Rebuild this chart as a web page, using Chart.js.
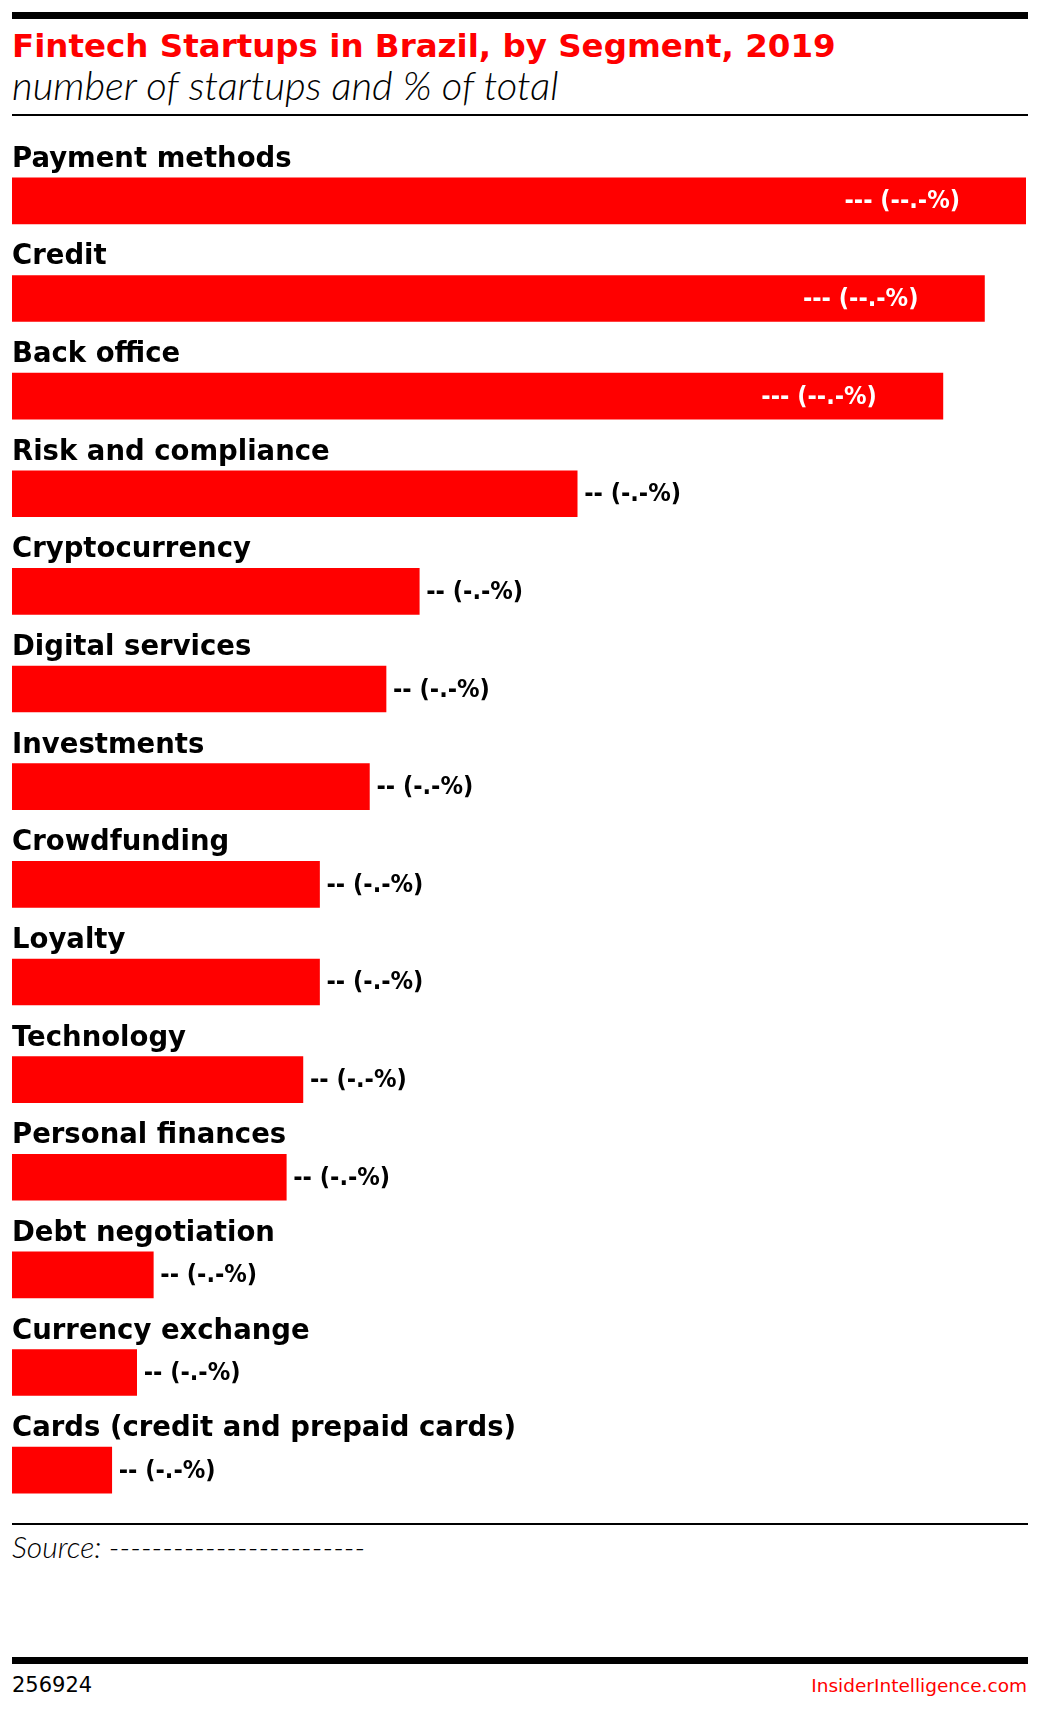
<!DOCTYPE html>
<html>
<head>
<meta charset="utf-8">
<script src="https://cdn.jsdelivr.net/npm/chart.js@4.4.1/dist/chart.umd.min.js"></script>
<style>
    body { margin: 0; background: #fff; }
    #page { position: relative; width: 1038px; height: 1710px; overflow: hidden; background: #fff; }
    .rule { position: absolute; left: 12px; width: 1016px; background: #000; }
    .txt { position: absolute; white-space: nowrap; line-height: 1; }
    #title { left: 12px; top: 27px; font: bold 32.5px 'DejaVu Sans'; color: #ff0000; }
    #subtitle { left: 12px; top: 61px; font: italic 300 40px Lato; color: #000; }
    #source { left: 12px; top: 1528px; font: italic 300 30px Lato; color: #000; }
    #chartId { left: 12px; top: 1673px; font: 21px 'DejaVu Sans'; color: #000; }
    #brand { right: 11px; top: 1675px; font: 18.5px 'DejaVu Sans'; color: #ff0000; }
    #chartBox { position: absolute; left: 0; top: 130px; width: 1038px; height: 1390px; }
</style>
</head>
<body>
<div id="page">
    <div class="rule" style="top:12px; height:7px;"></div>
    <div class="txt" id="title">Fintech Startups in Brazil, by Segment, 2019</div>
    <div class="txt" id="subtitle">number of startups and % of total</div>
    <div class="rule" style="top:114px; height:2px;"></div>

    <div id="chartBox"><canvas id="segmentChart"></canvas></div>

    <div class="rule" style="top:1523px; height:2px;"></div>
    <div class="txt" id="source">Source: ------------------------</div>
    <div class="rule" style="top:1657px; height:7px;"></div>
    <div class="txt" id="chartId">256924</div>
    <div class="txt" id="brand">InsiderIntelligence.com</div>
</div>

<script>
// Dados do gráfico
const segments = [
    'Payment methods', 'Credit', 'Back office', 'Risk and compliance',
    'Cryptocurrency', 'Digital services', 'Investments', 'Crowdfunding',
    'Loyalty', 'Technology', 'Personal finances', 'Debt negotiation',
    'Currency exchange', 'Cards (credit and prepaid cards)'
];
const startupCounts = [122, 117, 112, 68, 49, 45, 43, 37, 37, 35, 33, 17, 15, 12];
const countLabels = ['---', '---', '---', '--', '--', '--', '--', '--', '--', '--', '--', '--', '--', '--'];
const shareLabels = ['(--.-%)', '(--.-%)', '(--.-%)', '(-.-%)', '(-.-%)', '(-.-%)', '(-.-%)',
    '(-.-%)', '(-.-%)', '(-.-%)', '(-.-%)', '(-.-%)', '(-.-%)', '(-.-%)'];
const axisMax = 122;

// Plugin: nome da categoria acima da barra e valor ao lado/dentro
const barLabelsPlugin = {
    id: 'barLabels',
    afterDatasetsDraw(chart) {
        const ctx = chart.ctx;
        const meta = chart.getDatasetMeta(0);
        meta.data.forEach((bar, i) => {
            const half = bar.height / 2;

            ctx.save();
            ctx.font = "bold 27.5px 'DejaVu Sans'";
            ctx.fillStyle = '#000';
            ctx.textAlign = 'left';
            ctx.textBaseline = 'alphabetic';
            ctx.fillText(segments[i], bar.base, bar.y - half - 11);
            ctx.restore();

            // valor: fonte levemente condensada, como no original
            const text = countLabels[i] + ' ' + shareLabels[i];
            const inside = startupCounts[i] >= 100;
            ctx.save();
            ctx.translate(inside ? bar.x - 66 : bar.x + 7, bar.y + 1);
            ctx.scale(0.9, 1);
            ctx.font = "bold 25px 'DejaVu Sans'";
            ctx.textBaseline = 'middle';
            ctx.fillStyle = inside ? '#fff' : '#000';
            ctx.textAlign = inside ? 'right' : 'left';
            ctx.fillText(text, 0, 0);
            ctx.restore();
        });
    }
};

const chartCtx = document.getElementById('segmentChart').getContext('2d');
const segmentChart = new Chart(chartCtx, {
    type: 'bar',
    data: {
        labels: segments,
        datasets: [{
            data: startupCounts,
            backgroundColor: '#ff0000',
            borderWidth: 0,
            barThickness: 46
        }]
    },
    options: {
        indexAxis: 'y',
        responsive: true,
        maintainAspectRatio: false,
        animation: false,
        layout: {
            padding: { left: 12, right: 12, top: 22, bottom: 1 }
        },
        plugins: {
            legend: { display: false },
            tooltip: { enabled: false }
        },
        scales: {
            x: { display: false, min: 0, max: axisMax },
            y: { display: false }
        }
    },
    plugins: [barLabelsPlugin]
});
</script>
</body>
</html>
